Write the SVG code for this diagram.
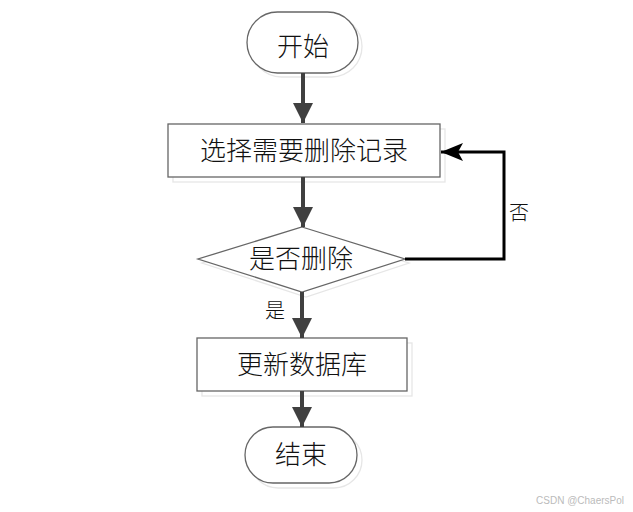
<svg xmlns="http://www.w3.org/2000/svg" width="633" height="512" viewBox="0 0 633 512">
<style>
.shape{fill:#fff;stroke:#666;stroke-width:1.3}
.shadow{fill:none;stroke:#e6e6e6;stroke-width:1.3}
.t{font-family:"Noto Sans CJK SC","Noto Sans CJK JP",sans-serif;font-size:26px;fill:#111;text-anchor:middle;font-weight:300}
.flow{stroke:#404040;stroke-width:4;fill:none}
.lbl{font-family:"Noto Sans CJK SC","Noto Sans CJK JP",sans-serif;font-size:20px;fill:#111;text-anchor:middle;font-weight:300}
</style>
<defs>
<marker id="ah" markerWidth="20" markerHeight="20" viewBox="0 0 20 20" refX="20" refY="10" orient="auto" markerUnits="userSpaceOnUse">
<path d="M0,0 L20,10 L0,20 Z" fill="#404040"/>
</marker>
<marker id="ahb" markerWidth="22" markerHeight="18" viewBox="0 0 22 18" refX="22" refY="9" orient="auto" markerUnits="userSpaceOnUse">
<path d="M0,0 L22,9 L0,18 L5,9 Z" fill="#000"/>
</marker>
</defs>
<rect width="633" height="512" fill="#fff"/>
<g id="start">
<rect class="shadow" x="251" y="16" width="111" height="61" rx="30.5"/>
<rect class="shape" x="247" y="12" width="111" height="61" rx="30.5"/>
<text class="t" x="303" y="56">开始</text>
</g>
<g id="select">
<rect class="shadow" x="173" y="129" width="272" height="53"/>
<rect class="shape" x="168" y="124" width="272" height="53"/>
<text class="t" x="304" y="160">选择需要删除记录</text>
</g>
<g id="decide">
<polygon class="shadow" points="306,232 409,263 306,297 202,263"/>
<polygon class="shape" points="302,227 405,259 302,292 198,259"/>
<text class="t" x="301" y="268">是否删除</text>
</g>
<g id="update">
<rect class="shadow" x="202" y="343" width="210" height="53"/>
<rect class="shape" x="197" y="338" width="210" height="53"/>
<text class="t" x="302" y="374">更新数据库</text>
</g>
<g id="end">
<rect class="shadow" x="250" y="432" width="112" height="56" rx="28"/>
<rect class="shape" x="245" y="427" width="112" height="56" rx="28"/>
<text class="t" x="301" y="464">结束</text>
</g>
<g id="connectors">
<line class="flow" x1="303" y1="73" x2="303" y2="123" marker-end="url(#ah)"/>
<line class="flow" x1="303" y1="177" x2="303" y2="227" marker-end="url(#ah)"/>
<line class="flow" x1="302" y1="292" x2="302" y2="338" marker-end="url(#ah)"/>
<line class="flow" x1="302" y1="391" x2="302" y2="427" marker-end="url(#ah)"/>
<polyline points="405,259 504,259 504,152 441,152" fill="none" stroke="#000" stroke-width="3" marker-end="url(#ahb)"/>
<text class="lbl" x="519" y="220">否</text>
<text class="lbl" x="275" y="318">是</text>
</g>
<text x="580" y="504" font-family="Liberation Sans, sans-serif" font-size="10" fill="#bbb" text-anchor="middle">CSDN @ChaersPol</text>
</svg>
